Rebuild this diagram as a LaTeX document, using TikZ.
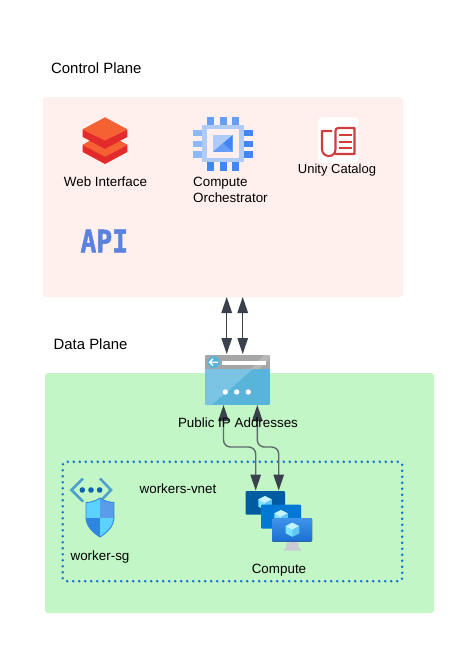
\documentclass[tikz,border=0pt]{standalone}
\usepackage{fontspec}
\setmainfont{Liberation Sans}
\newfontfamily\apifont[FakeBold=1.6]{DejaVu Sans Mono Bold}
\usetikzlibrary{arrows.meta,positioning,calc}
\definecolor{cpfill}{HTML}{FFF0EE}
\definecolor{dpfill}{HTML}{C3F6C6}
\definecolor{arrowdark}{HTML}{3A414C}
\definecolor{linegrey}{HTML}{5E6B6B}
\definecolor{dotblue}{HTML}{1473D2}
\definecolor{dbOrange}{HTML}{F66133}
\definecolor{dbRed}{HTML}{E32B2B}
\definecolor{gLight}{HTML}{AECBFA}
\definecolor{gSoft}{HTML}{8FB8F8}
\definecolor{gMid}{HTML}{669DF6}
\definecolor{gDark}{HTML}{4285F4}
\definecolor{ucRed}{HTML}{D13C3C}
\definecolor{winBlue}{HTML}{59B4D9}
\definecolor{winLight}{HTML}{7AC3E3}
\definecolor{winGrey}{HTML}{A6A6A6}
\definecolor{winGreyL}{HTML}{B8B8B8}
\definecolor{vmA}{HTML}{005BA1}
\definecolor{vmB}{HTML}{0078D4}
\definecolor{vmCt}{HTML}{3F94EA}
\definecolor{vmCb}{HTML}{1B6FD2}
\definecolor{cubeL}{HTML}{7FE3FF}
\definecolor{cubeM}{HTML}{C6F2FF}
\definecolor{standGrey}{HTML}{C9CDD2}
\definecolor{sgDots}{HTML}{0F62AE}
\definecolor{sgChev}{HTML}{4FA0CC}
\definecolor{shA}{HTML}{5CD2FF}
\definecolor{shB}{HTML}{2E86E0}
\definecolor{shC}{HTML}{5A9BEA}
\definecolor{apiBlue}{HTML}{5B82DE}
\tikzset{
 x=1pt,y=-1pt,
 plane/.style={draw=none,rounded corners=3pt,inner sep=0pt},
 lbl/.style={font=\fontsize{13.4}{16}\selectfont,text=black,inner sep=0pt},
 title/.style={font=\fontsize{14.9}{17}\selectfont,text=black,inner sep=0pt,anchor=west},
 biarrow/.style={draw=arrowdark,line width=1.3pt,{Triangle[length=16pt,width=10.5pt,fill=arrowdark]}-{Triangle[length=16pt,width=10.5pt,fill=arrowdark]}},
 wire/.style={draw=linegrey,line width=1.4pt,rounded corners=7pt,{Triangle[length=16pt,width=10.5pt,color=arrowdark,fill=arrowdark]}-{Triangle[length=16pt,width=10.5pt,color=arrowdark,fill=arrowdark]}},
}
\newcommand{\vmcube}[2]{%
 \fill[cubeL] (#1-6.7,#2-3.6) -- (#1,#2-7) -- (#1+6.7,#2-3.6) -- (#1+6.7,#2+3.6) -- (#1,#2+7) -- (#1-6.7,#2+3.6) -- cycle;
 \fill[cubeM] (#1-6.7,#2-3.6) -- (#1,#2-7) -- (#1+6.7,#2-3.6) -- (#1,#2) -- cycle;
 \fill[cubeL!75!vmB] (#1,#2) -- (#1+6.7,#2-3.6) -- (#1+6.7,#2+3.6) -- (#1,#2+7) -- cycle;
}
\begin{document}
\begin{tikzpicture}
\useasboundingbox (0,0) rectangle (476,665);
\fill[white] (0,0) rectangle (476,665);
% planes
\node[plane,fill=cpfill,minimum width=360pt,minimum height=200pt] (control) at (223,197) {};
\node[plane,fill=dpfill,minimum width=389pt,minimum height=240pt] (data) at (239.5,493) {};
\node[title] (controlt) at (51,68.5) {Control Plane};
\node[title] (datat) at (53.5,344.5) {Data Plane};
% vnet
\node[draw=none,minimum width=339pt,minimum height=119pt,inner sep=0pt] (vnet) at (232.5,521.5) {};
\draw[dotblue,line width=2.8pt,line cap=round,dash pattern=on 0pt off 6pt,rounded corners=3pt] (vnet.south west) rectangle (vnet.north east);
% web interface icon
\fill[dbRed] (82.7,145) -- (105,132) -- (127.3,145) -- (127.3,152) -- (105,164) -- (82.7,152) -- cycle;
\fill[dbOrange] (82.7,145) -- (90,141) -- (105,149) -- (120,141) -- (127.3,145) -- (105,156.7) -- cycle;
\fill[dbRed] (82.7,129.3) -- (105,140.5) -- (127.3,129.3) -- (127.3,137) -- (105,148.5) -- (82.7,137) -- cycle;
\fill[dbOrange] (105,117.3) -- (127.3,129.3) -- (105,140.5) -- (82.7,129.3) -- cycle;
\node[lbl] (web) at (105.5,181.5) {Web Interface};
% chip icon
\foreach \px in {207.4,219.9,231.9} {\fill[gMid] (\px,116.7) rectangle (\px+7,125);}
\foreach \px in {207.4,219.9,231.9} {\fill[gDark] (\px,162) rectangle (\px+7,171);}
\foreach \py in {130,140.7,151.2} {\fill[gSoft] (192.7,\py) rectangle (202,\py+6.4);}
\foreach \py in {130,140.7,151.2} {\fill[gDark] (244,\py) rectangle (253,\py+6.4);}
\fill[gLight] (201.7,125) rectangle (244,162.3);
\fill[cpfill] (206.7,129.3) rectangle (239.3,158);
\fill[gLight] (213.3,135) rectangle (232.7,151.7);
\fill[gDark] (213.3,151.7) -- (232.7,135) -- (232.7,151.7) -- cycle;
\fill[gMid] (213.3,151.7) -- (223,143.3) -- (232.7,151.7) -- cycle;
\node[lbl,align=left,anchor=north west] (orch) at (193,177) {Compute\\Orchestrator};
% unity catalog icon
\fill[white,rounded corners=4pt] (318.3,117.3) rectangle (358.3,163);
\begin{scope}[draw=ucRed,line width=2.1pt,line join=round]
\draw (332,131) -- (322,131) -- (322,149) .. controls (322,153) and (325,156) .. (329,156) .. controls (333,156) and (335.5,153) .. (335.5,149) -- (335.5,131) .. controls (335.5,129) and (336.5,128) .. (338.5,128) -- (354.5,128) -- (354.5,154) -- (335,154);
\draw (338.5,135) -- (351.5,135) (338.5,141.7) -- (351.5,141.7) (338.5,148.3) -- (351.5,148.3);
\end{scope}
\node[lbl,font=\fontsize{13}{16}\selectfont] (unity) at (337,170.5) {Unity Catalog};
% api
\node[inner sep=0pt,text=apiBlue,font=\apifont\fontsize{31}{31}\selectfont,xscale=0.85,yscale=1.0,transform shape] (api) at (104.3,241) {API};
% public ip icon
\node[inner sep=0pt,minimum width=65pt,minimum height=50pt] (pip) at (237.5,380) {};
\begin{scope}
\clip[rounded corners=2.5pt] (pip.south west) rectangle (pip.north east);
\fill[winBlue] (pip.south west) rectangle (pip.north east);
\fill[winLight] (205,369) -- (253,369) -- (211.7,405) -- (205,405) -- cycle;
\fill[winGrey] (205,355) rectangle (270,369);
\fill[winGreyL] (264,355) -- (270,355) -- (270,358) -- (259,369) -- (251,369) -- cycle;
\end{scope}
\fill[winBlue] (213.8,362.2) circle (6.2);
\draw[white,line width=1.3pt] (209.5,362.2) -- (218,362.2) (213,358.8) -- (209.5,362.2) -- (213,365.6);
\fill[white] (221.7,360.7) rectangle (266,365.3);
\foreach \dx in {225.3,236.7,248.3} {\fill[white] (\dx,392) circle (2.7);}
% compute icon
\fill[vmA,rounded corners=1pt] (245.7,491) rectangle (285,514.7);
\vmcube{265}{503}
\fill[vmB,rounded corners=1pt] (261,504.7) rectangle (301,528.7);
\vmcube{281}{517}
\fill[standGrey] (287,541.7) -- (298,541.7) -- (299,547.5) -- (302,550.7) -- (283.3,550.7) -- (286,547.5) -- cycle;
\fill[rounded corners=1pt,top color=vmCt,bottom color=vmCb] (272,518) rectangle (312,541.7);
\vmcube{292.3}{529.7}
\node[inner sep=0pt,minimum width=66.5pt,minimum height=60pt] (compute) at (278.75,521) {};
\node[lbl] (computel) at (279,570.5) {Compute};
% worker-sg icon
\node[inner sep=0pt,minimum width=42pt,minimum height=59pt] (sg) at (91,507.5) {};
\draw[sgChev,line width=2.6pt] (83,478.5) -- (71.5,490) -- (83,501.5);
\draw[sgChev,line width=2.6pt] (100,478.5) -- (111,490) -- (100,501.5);
\foreach \dx in {82.3,91,99.6} {\fill[sgDots] (\dx,490) circle (2.8);}
\begin{scope}
\clip (100,498) .. controls (104,501) and (110,502.5) .. (114,502.5) -- (114,517) .. controls (114,527) and (106,533) .. (100,537) .. controls (94,533) and (86,527) .. (86,517) -- (86,502.5) .. controls (90,502.5) and (96,501) .. (100,498) -- cycle;
\fill[shA] (86,498) rectangle (100,518);
\fill[shC] (100,498) rectangle (114,518);
\fill[shB] (86,518) rectangle (100,538);
\fill[shA] (100,518) rectangle (114,538);
\end{scope}
\draw[shB,line width=0.9pt] (100,498) .. controls (104,501) and (110,502.5) .. (114,502.5) -- (114,517) .. controls (114,527) and (106,533) .. (100,537) .. controls (94,533) and (86,527) .. (86,517) -- (86,502.5) .. controls (90,502.5) and (96,501) .. (100,498) -- cycle;
\node[lbl] (sgl) at (100,557.5) {worker-sg};
\node[lbl] (vnetl) at (178,488.5) {workers-vnet};
% connectors
\coordinate (cpa) at (226.7,297);\coordinate (cpb) at (242.7,297);
\coordinate (pa) at (226.7,354);\coordinate (pb) at (242.7,354);
\draw[biarrow] (cpa) -- (pa);
\draw[biarrow] (cpb) -- (pb);
\coordinate (qa) at (223.5,405);\coordinate (qb) at (257.3,405);
\coordinate (ca) at (255.7,490.5);\coordinate (cb) at (278.7,490.5);
\draw[wire] (qa) -- (223.5,447) -- (255.7,447) -- (ca);
\draw[wire] (qb) -- (257.3,447) -- (278.7,447) -- (cb);
\node[lbl] (piplabel) at (238,422.5) {Public IP Addresses};
\end{tikzpicture}
\end{document}
